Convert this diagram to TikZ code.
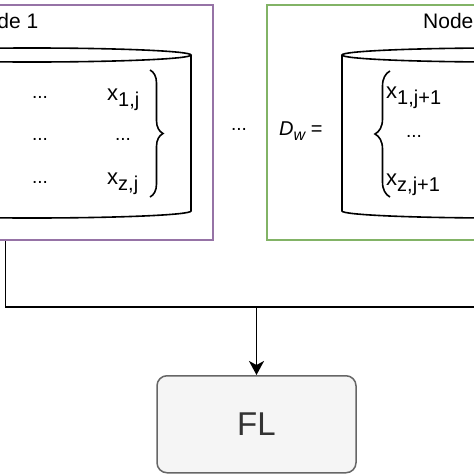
\documentclass[tikz,border=0pt]{standalone}
\usepackage{fontspec}
\setmainfont{Liberation Sans}
\usetikzlibrary{arrows.meta,decorations.pathreplacing}
\definecolor{purp}{HTML}{9673A6}
\definecolor{grn}{HTML}{82B366}
\definecolor{flfill}{HTML}{F5F5F5}
\definecolor{flline}{HTML}{666666}
\definecolor{fltext}{HTML}{333333}
\newcommand{\fsz}[1]{\fontsize{#1}{#1}\selectfont}
\newcommand{\xsub}[1]{{\fsz{22}x}\raisebox{-6pt}{\fsz{20}#1}}
\tikzset{
  nodebox/.style={draw, line width=2pt, minimum width=415pt, minimum height=235pt, anchor=north west, inner sep=0pt},
  cyl/.style={draw=black, line width=1.6pt},
  txt/.style={inner sep=0pt, anchor=base, font=\fsz{19}},
  txtw/.style={inner sep=0pt, anchor=base west, font=\fsz{19}},
  brc/.style={draw=black, line width=1.6pt, decorate},
  conn/.style={draw=black, line width=1.8pt},
  flbox/.style={draw=flline, fill=flfill, line width=1.5pt, rounded corners=10pt, minimum width=199pt, minimum height=97pt, anchor=north, text=fltext, font=\fsz{33}}
}
\begin{document}
\begin{tikzpicture}[x=1pt,y=-1pt]
\useasboundingbox (0,0) rectangle (474,474);
\clip (0,0) rectangle (474,474);
\fill[white] (0,0) rectangle (474,474);
% outer node boxes
\node[nodebox, draw=purp] (n1) at (-203,4) {};
\node[nodebox, draw=grn] (n2) at (266,4) {};
\node[inner sep=0pt, anchor=base, font=\fsz{21}] (l1) at (4.5,28) {Node 1};
\node[inner sep=0pt, anchor=base west, font=\fsz{21}] (l2) at (423,28) {Node};
% cylinder 1
\draw[cyl] (32,55) ellipse [x radius=159pt, y radius=7pt];
\draw[cyl] (-127,55) -- (-127,211) arc[start angle=180, end angle=360, x radius=159pt, y radius=7pt] -- (191,55);
% cylinder 2
\draw[cyl] (501,55) ellipse [x radius=159pt, y radius=7pt];
\draw[cyl] (342,55) -- (342,211) arc[start angle=180, end angle=360, x radius=159pt, y radius=7pt] -- (660,55);
% contents of cylinder 1
\node[txt] (a1) at (40,98) {...};
\node[txt] (a2) at (40,140) {...};
\node[txt] (a3) at (40,183) {...};
\node[txtw] (b1) at (107,100) {\xsub{1,j}};
\node[txt] (b2) at (123,140) {...};
\node[txtw] (b3) at (107,184) {\xsub{z,j}};
\draw[brc, decoration={brace, amplitude=13pt}] (150,70) -- (150,197);
% middle dots
\node[txt] (mid) at (239,130) {...};
% D_w
\node[txtw, font=\fsz{20}] (dw) at (279,135) {{\itshape D}\raisebox{-5pt}{\fsz{16}\itshape w} =};
% contents of cylinder 2
\draw[brc, decoration={brace, amplitude=15pt}] (390,197) -- (390,71);
\node[txtw] (c1) at (386,98) {\xsub{1,j+1}};
\node[txt] (c2) at (414,137) {...};
\node[txtw] (c3) at (386,185) {\xsub{z,j+1}};
% FL
\node[flbox] (fl) at (256.5,375) {FL};
\coordinate (jn) at (256.5,307);
\draw[conn] (n1.south) |- (jn);
\draw[conn] (n2.south) |- (jn);
\draw[conn, -{Stealth[length=14pt, width=15pt, inset=4pt]}] (jn) -- (fl.north);
\end{tikzpicture}
\end{document}
